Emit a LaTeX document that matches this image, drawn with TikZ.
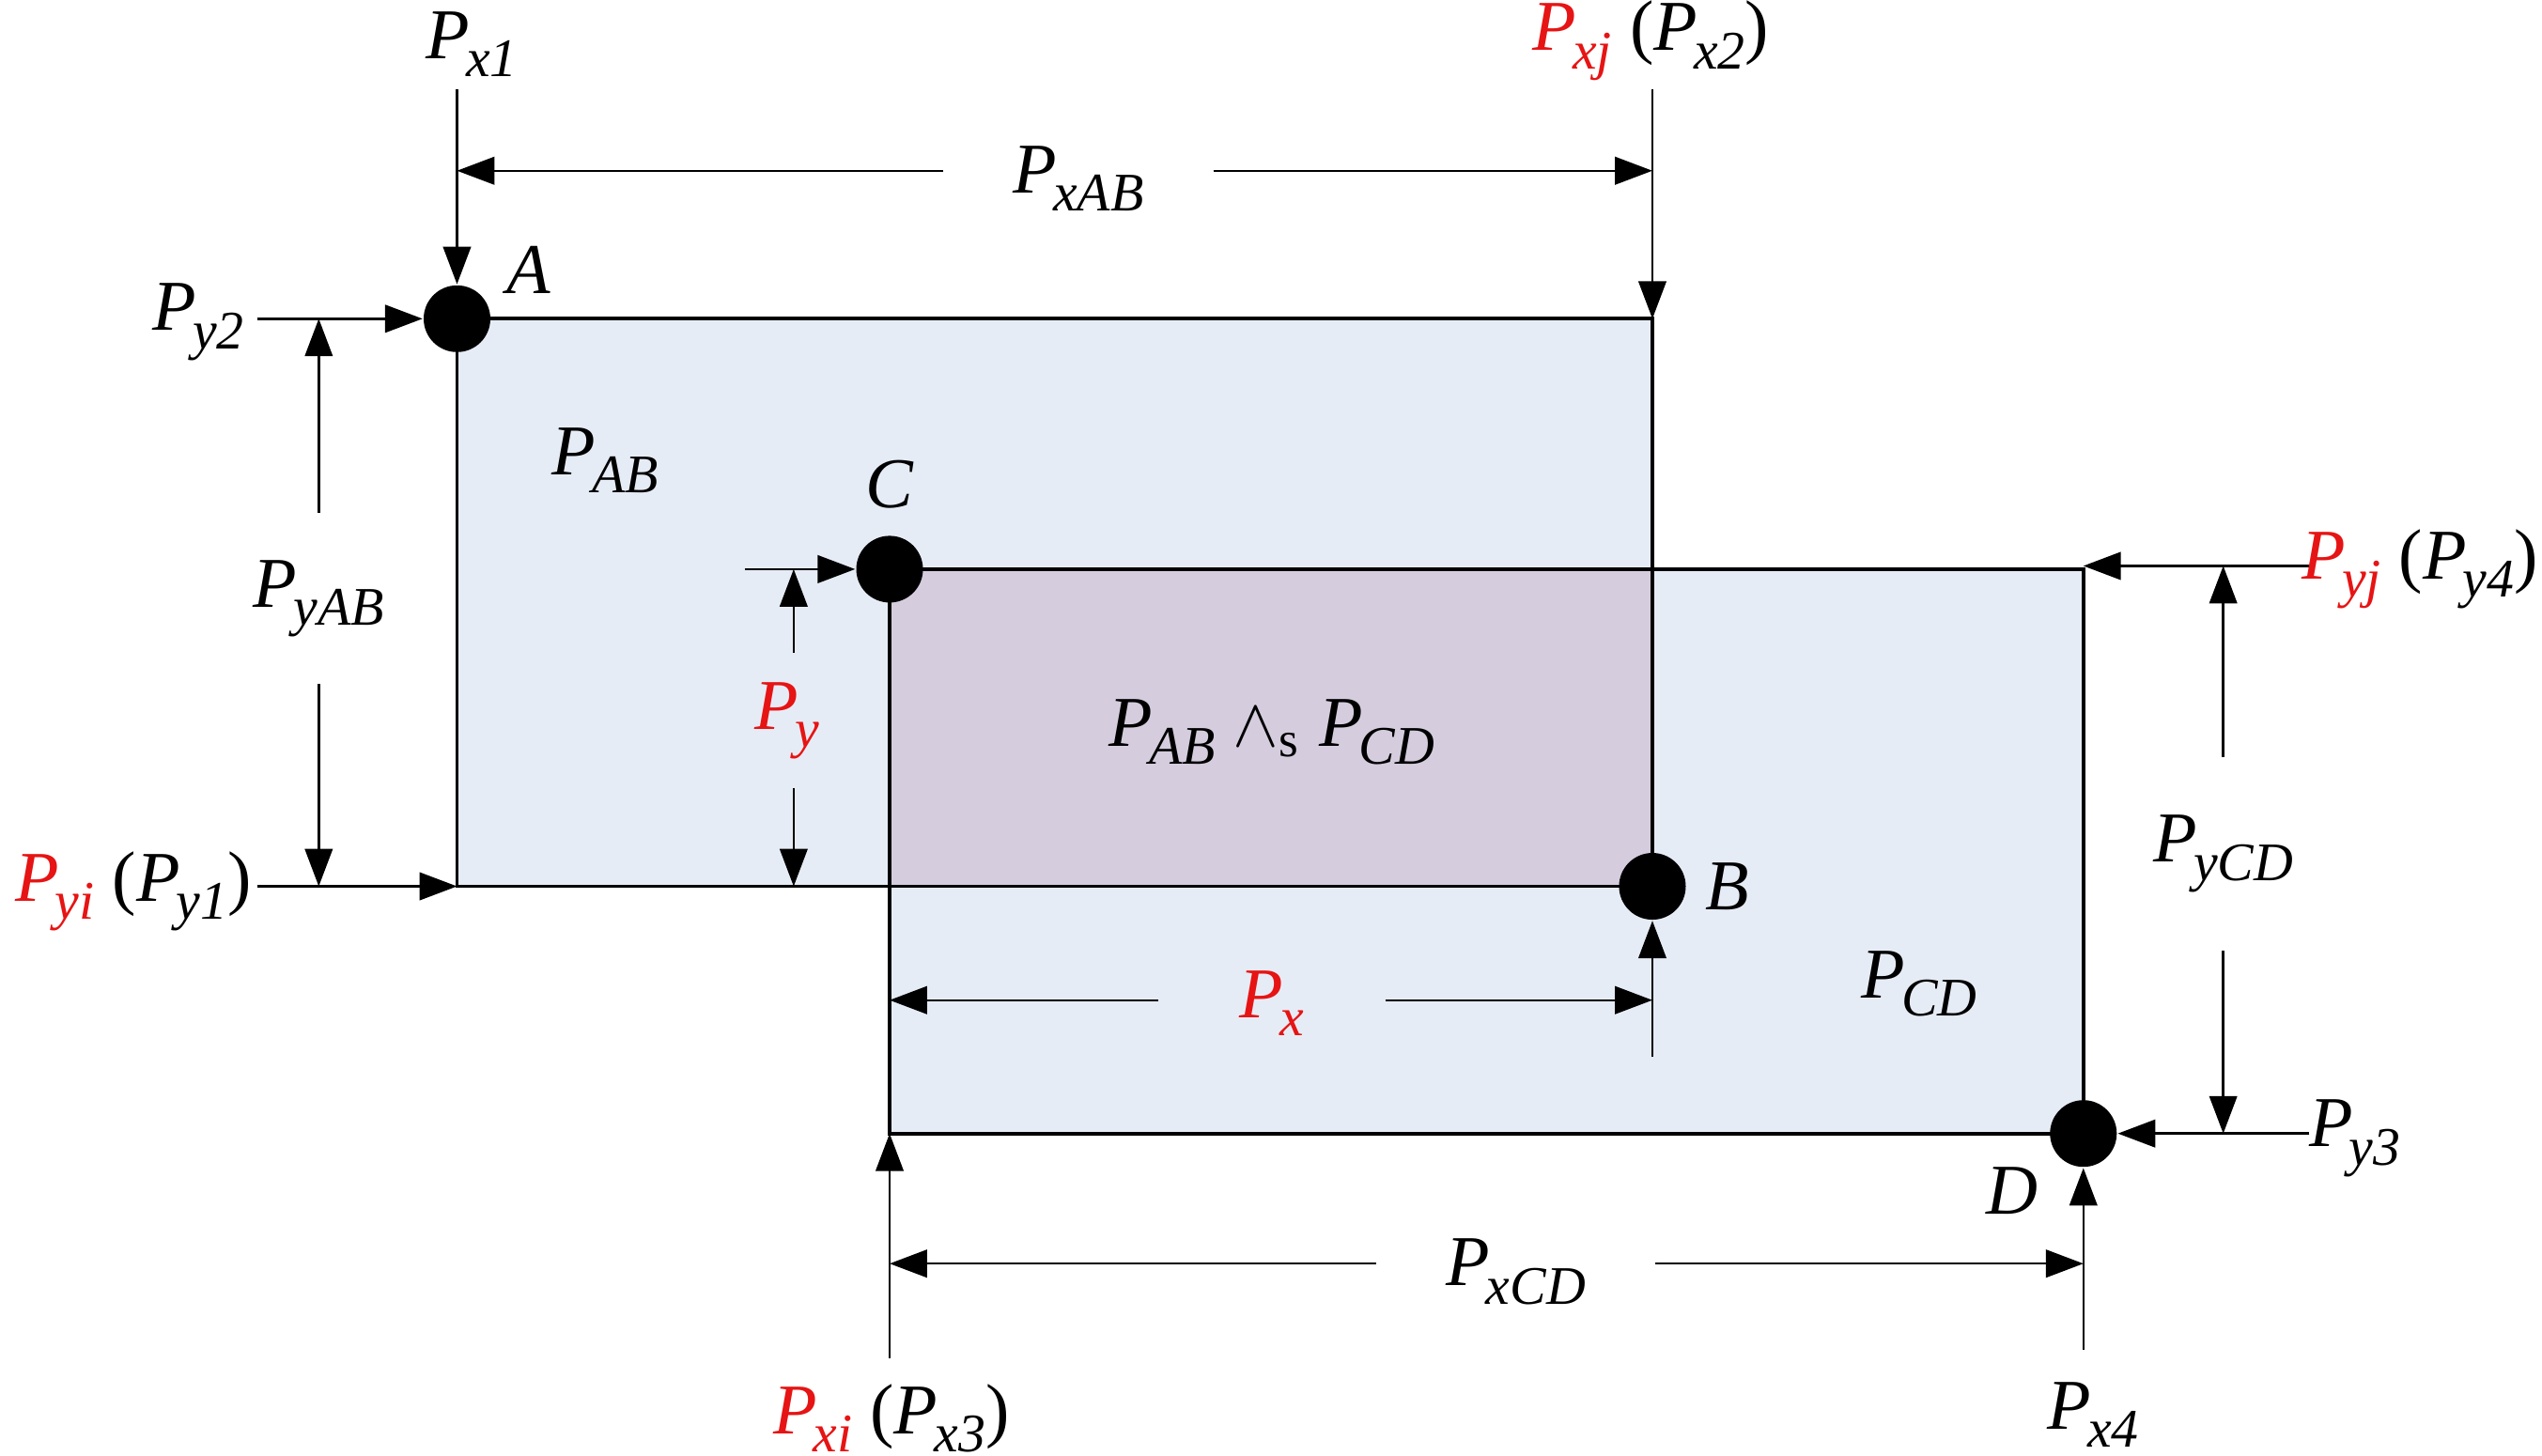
\documentclass[tikz,border=0pt]{standalone}
\usepackage{fontspec}
\setmainfont{Liberation Serif}
\usetikzlibrary{arrows.meta}
\newcommand\Pv[1]{\textit{P}\kern-0.05em\raisebox{-0.55ex}{\fontsize{9.5}{10}\selectfont\textit{#1}}}
\definecolor{rd}{RGB}{230,20,20}
\definecolor{lb}{RGB}{230,236,246}
\definecolor{pu}{RGB}{213,204,222}
\begin{document}
\begin{tikzpicture}[x=0.01cm,y=-0.01cm,
  lbl/.style={font=\fontsize{12.5}{13}\selectfont,inner sep=1pt},
  tip/.style={-{Triangle[length=0.23cm,width=0.17cm]}},
  dot/.style={circle,fill=black,minimum size=0.41cm,inner sep=0}]
\useasboundingbox (0,0) rectangle (1563,895);
\fill[lb] (281,196) rectangle (1016,545);
\fill[lb] (547,350) rectangle (1281,697);
\fill[pu] (547,350) rectangle (1016,545);
\draw[line width=0.6pt] (281,196) rectangle (1016,545);
\draw[line width=0.6pt] (547,350) rectangle (1281,697);
\node[dot] (A) at (281,196) {};
\node[dot] (B) at (1016,545) {};
\node[dot] (C) at (547,350) {};
\node[dot] (D) at (1281,697) {};
\node[lbl] at (325,166) {\textit{A}};
\node[lbl] at (1062,545) {\textit{B}};
\node[lbl] at (547,298) {\textit{C}};
\node[lbl] at (1237,732) {\textit{D}};
\node[lbl] at (372,283) {\Pv{AB}};
\node[lbl] at (1180,605) {\Pv{CD}};
\node[lbl] at (782,450) {\Pv{AB} $\wedge_{\mathrm{s}}$ \Pv{CD}};
% top
\node[lbl] (px1) at (290,27) {\Pv{x1}};
\coordinate (px1s) at (281,55);
\draw[tip] (px1s) -- (A.north);
\node[lbl] (pxj) at (1015,25) {\textcolor{rd}{\Pv{xj}} (\Pv{x2})};
\coordinate (pxjs) at (1016,55); \coordinate (pxje) at (1016,196);
\draw[tip] (pxjs) -- (pxje);
\node[lbl,inner xsep=12pt] (pxab) at (663,110) {\Pv{xAB}};
\coordinate (ab1) at (281,105); \coordinate (ab2) at (1016,105);
\draw[tip] (pxab.west|-ab1) -- (ab1); \draw[tip] (pxab.east|-ab1) -- (ab2);
% left
\node[lbl] (py2) at (122,198) {\Pv{y2}};
\coordinate (py2s) at (158,196);
\draw[tip] (py2s) -- (A.west);
\node[lbl,inner ysep=8pt] (pyab) at (196,368) {\Pv{yAB}};
\coordinate (yab1) at (196,196); \coordinate (yab2) at (196,545);
\draw[tip] (pyab.north-|yab1) -- (yab1); \draw[tip] (pyab.south-|yab1) -- (yab2);
\node[lbl] (pyi) at (82,548) {\textcolor{rd}{\Pv{yi}} (\Pv{y1})};
\coordinate (pyis) at (158,545); \coordinate (pyie) at (281,545);
\draw[tip] (pyis) -- (pyie);
\node[lbl,inner ysep=5pt] (py) at (484,443) {\textcolor{rd}{\Pv{y}}};
\coordinate (py1) at (488,350); \coordinate (py2e) at (488,545);
\draw[tip] (py.north-|py1) -- (py1); \draw[tip] (py.south-|py1) -- (py2e);
\coordinate (cs) at (458,350);
\draw[tip] (cs) -- (C.west);
% right
\node[lbl] (pyj) at (1488,350) {\textcolor{rd}{\Pv{yj}} (\Pv{y4})};
\coordinate (pyjs) at (1420,348); \coordinate (pyje) at (1281,348);
\draw[tip] (pyjs) -- (pyje);
\node[lbl,inner ysep=10pt] (pycd) at (1367,525) {\Pv{yCD}};
\coordinate (ycd1) at (1367,348); \coordinate (ycd2) at (1367,697);
\draw[tip] (pycd.north-|ycd1) -- (ycd1); \draw[tip] (pycd.south-|ycd1) -- (ycd2);
\node[lbl] (py3) at (1448,700) {\Pv{y3}};
\coordinate (py3s) at (1420,697);
\draw[tip] (py3s) -- (D.east);
% bottom
\node[lbl,inner xsep=14pt] (px) at (782,617) {\textcolor{rd}{\Pv{x}}};
\coordinate (x1) at (547,615); \coordinate (x2) at (1016,615);
\draw[tip] (px.west|-x1) -- (x1); \draw[tip] (px.east|-x1) -- (x2);
\coordinate (bs) at (1016,650);
\draw[tip] (bs) -- (B.south);
\node[lbl,inner xsep=12pt] (pxcd) at (932,782) {\Pv{xCD}};
\coordinate (cd1) at (547,777); \coordinate (cd2) at (1281,777);
\draw[tip] (pxcd.west|-cd1) -- (cd1); \draw[tip] (pxcd.east|-cd1) -- (cd2);
\node[lbl] (pxi) at (548,872) {\textcolor{rd}{\Pv{xi}} (\Pv{x3})};
\coordinate (pxis) at (547,835); \coordinate (pxie) at (547,697);
\draw[tip] (pxis) -- (pxie);
\node[lbl] (px4) at (1287,870) {\Pv{x4}};
\coordinate (px4s) at (1281,830);
\draw[tip] (px4s) -- (D.south);
\end{tikzpicture}
\end{document}
